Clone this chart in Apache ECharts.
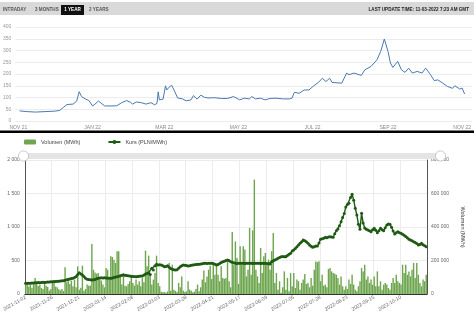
<!DOCTYPE html>
<html><head><meta charset="utf-8">
<script src="https://cdn.jsdelivr.net/npm/echarts@6/dist/echarts.min.js"></script>
<style>html,body{margin:0;padding:0;background:#fff}#c{width:474px;height:316px}</style>
</head><body><div id="c"></div>
<script>
// ---------- header ----------
const tabs = ['INTRADAY', '3 MONTHS', '1 YEAR', '2 YEARS'];
const activeTab = '1 YEAR';
const updateText = 'LAST UPDATE TIME: 11-03-2022 7:23 AM GMT';

// ---------- top chart (1 year line) ----------
const topDates = ['2021-11-02','2021-11-08','2021-11-15','2021-11-23','2021-12-01','2021-12-05','2021-12-08','2021-12-11','2021-12-16','2021-12-19','2021-12-20','2021-12-21','2021-12-22','2021-12-23','2021-12-26','2021-12-29','2022-01-01','2022-01-03','2022-01-06','2022-01-08','2022-01-11','2022-01-17','2022-01-21','2022-01-25','2022-01-29','2022-02-01','2022-02-03','2022-02-06','2022-02-10','2022-02-14','2022-02-18','2022-02-21','2022-02-23','2022-02-24','2022-02-25','2022-02-28','2022-03-02','2022-03-03','2022-03-05','2022-03-07','2022-03-09','2022-03-12','2022-03-16','2022-03-19','2022-03-23','2022-03-25','2022-03-28','2022-03-31','2022-04-03','2022-04-06','2022-04-11','2022-04-17','2022-04-22','2022-04-27','2022-05-02','2022-05-06','2022-05-10','2022-05-12','2022-05-15','2022-05-19','2022-05-23','2022-05-27','2022-06-01','2022-06-07','2022-06-12','2022-06-14','2022-06-16','2022-06-20','2022-06-24','2022-06-28','2022-07-02','2022-07-06','2022-07-09','2022-07-12','2022-07-15','2022-07-17','2022-07-25','2022-07-29','2022-07-31','2022-08-04','2022-08-10','2022-08-13','2022-08-18','2022-08-23','2022-08-26','2022-08-29','2022-09-01','2022-09-03','2022-09-05','2022-09-09','2022-09-12','2022-09-15','2022-09-18','2022-09-21','2022-09-25','2022-09-29','2022-10-02','2022-10-06','2022-10-09','2022-10-12','2022-10-16','2022-10-20','2022-10-24','2022-10-26','2022-10-30','2022-11-01','2022-11-03'];
const topValues = [43,40,38,40,42,45,58,70,72,85,93,125,130,104,94,87,64,72,85,76,64,64,65,78,87,80,72,81,78,72,78,69,75,124,90,93,150,132,144,152,132,98,94,86,90,108,93,110,101,98,99,96,96,104,90,97,94,104,94,97,90,96,97,94,94,97,122,118,132,132,150,165,182,168,182,164,161,204,197,204,194,218,232,261,296,349,296,247,228,254,218,207,225,204,211,204,225,197,172,175,161,147,139,150,136,140,115];
const topTickDates = ['2021-11-01','2022-01-01','2022-03-01','2022-05-01','2022-07-01','2022-09-01','2022-11-01'];
const topTickLabels = ['NOV 21','JAN 22','MAR 22','MAY 22','JUL 22','SEP 22','NOV 22'];

// ---------- bottom chart (trading days) ----------
const tradeStart = '2021-11-02';
const tradeEnd = '2022-11-02';
const holidays = ['2021-11-11','2022-01-06','2022-04-18','2022-05-03','2022-06-16','2022-08-15','2022-11-01'];
const seriesNames = ['Volumen (MWh)', 'Kurs (PLN/MWh)'];
const volume = [
70000,62000,45000,55000,38000,58000,96000,72000,48000,55000,36000,30000,76000,50000,42000,20000,30000,
66000,70000,44000,40000,28000,22000,30000,18000,159000,70000,85000,60000,80000,46000,86000,40000,165000,
26000,38000,169000,20000,30000,56000,50000,50000,299000,145000,129000,121000,125000,86000,80000,56000,40000,
155000,145000,86000,225000,221000,205000,185000,255000,255000,105000,56000,125000,50000,46000,60000,76000,105000,
66000,50000,86000,56000,76000,46000,96000,70000,259000,165000,229000,125000,56000,86000,125000,229000,66000,
46000,14000,10000,12000,8000,15000,185000,20000,175000,26000,18000,12000,66000,40000,105000,20000,12000,
16000,76000,26000,20000,10000,14000,30000,56000,16000,40000,86000,141000,70000,105000,145000,169000,90000,
185000,115000,175000,115000,76000,165000,96000,90000,96000,205000,76000,40000,370000,175000,314000,215000,60000,
285000,175000,285000,265000,105000,145000,394000,115000,380000,683000,145000,105000,66000,275000,125000,225000,245000,
175000,205000,145000,255000,364000,66000,125000,26000,76000,8000,40000,135000,26000,96000,16000,125000,46000,
125000,36000,86000,76000,26000,66000,86000,120000,60000,66000,40000,96000,50000,145000,194000,190000,196000,
76000,115000,50000,56000,40000,149000,155000,135000,125000,121000,115000,96000,56000,105000,46000,26000,46000,
30000,86000,60000,115000,56000,26000,16000,46000,76000,155000,135000,175000,86000,105000,66000,86000,56000,
105000,46000,135000,46000,76000,26000,56000,66000,56000,36000,26000,66000,96000,66000,115000,76000,66000,
56000,175000,125000,175000,115000,135000,105000,145000,185000,96000,185000,115000,66000,46000,86000,76000,115000];
const price = [
159,160,162,161,164,166,168,167,170,169,172,174,173,176,178,180,181,
184,185,187,189,192,195,197,199,205,212,219,225,230,234,245,262,290,
318,300,284,260,234,222,215,211,209,212,218,226,234,238,242,240,244,
240,237,235,234,240,248,255,259,266,272,278,284,280,276,272,269,266,
263,260,259,262,266,270,269,285,299,305,318,290,383,358,420,445,433,
438,433,420,408,412,420,400,380,368,362,358,362,385,408,420,433,430,
425,418,422,428,433,436,440,443,443,448,452,458,458,455,458,460,458,
455,445,433,440,455,470,483,490,500,507,500,483,475,465,458,455,458,
458,460,458,456,458,458,460,458,456,458,460,458,458,456,458,455,458,
455,452,448,483,495,507,520,532,545,557,560,557,557,575,595,607,640,
657,680,706,730,756,781,806,795,781,756,731,712,697,705,716,716,760,
816,825,831,846,840,850,856,850,846,900,945,970,1020,1080,1140,1200,1300,
1335,1353,1440,1488,1400,1280,1180,1040,965,1204,1060,985,965,955,945,930,960,
980,950,915,945,980,960,945,990,1030,1045,1040,995,940,896,915,930,915,
905,890,876,860,840,816,805,795,781,770,755,731,740,756,735,720,706];

// ---------- helpers ----------
function ts(s) { const p = s.split('-').map(Number); return new Date(p[0], p[1] - 1, p[2]).getTime(); }
function pad(n) { return (n < 10 ? '0' : '') + n; }
function tradingDays(a, b, skip) {
  const out = []; const d = new Date(ts(a)); const end = ts(b);
  while (d.getTime() <= end) {
    const s = d.getFullYear() + '-' + pad(d.getMonth() + 1) + '-' + pad(d.getDate());
    const wd = d.getDay();
    if (wd !== 0 && wd !== 6 && skip.indexOf(s) < 0) out.push(s);
    d.setDate(d.getDate() + 1);
  }
  return out;
}
function spaced(v) { return String(v).replace(/\B(?=(\d{3})+(?!\d))/g, ' '); }

const categories = tradingDays(tradeStart, tradeEnd, holidays);
const tickTs = topTickDates.map(ts);
const FONT = '"Liberation Sans", Arial, sans-serif';

const chart = echarts.init(document.getElementById('c'), null, { renderer: 'canvas' });

const tabX = [3, 35, 61, 89];
const graphic = [
  { type: 'rect', shape: { x: 0, y: 2, width: 474, height: 13 }, style: { fill: '#d9d9d9' }, silent: true },
  { type: 'rect', shape: { x: 0, y: 130.5, width: 474, height: 2.6 }, style: { fill: '#000' }, silent: true },
  { type: 'text', style: { text: updateText, x: 469, y: 9.5, fill: '#222', font: 'bold 4.6px ' + FONT, textAlign: 'right', textVerticalAlign: 'middle' } }
];
tabs.forEach(function (t, i) {
  if (t === activeTab) {
    graphic.push({ type: 'rect', shape: { x: tabX[i], y: 5, width: 23, height: 10 }, style: { fill: '#111' } });
    graphic.push({ type: 'text', style: { text: t, x: tabX[i] + 11.5, y: 10, fill: '#fff', font: 'bold 4.6px ' + FONT, textAlign: 'center', textVerticalAlign: 'middle' } });
  } else {
    graphic.push({ type: 'text', style: { text: t, x: tabX[i], y: 10, fill: '#555', font: 'bold 4.6px ' + FONT, textAlign: 'left', textVerticalAlign: 'middle' } });
  }
});

chart.setOption({
  animation: false,
  textStyle: { fontFamily: FONT },
  graphic: graphic,
  legend: {
    data: seriesNames, left: 19, top: 134, itemWidth: 12, itemHeight: 5, itemGap: 27,
    textStyle: { fontSize: 5.5, color: '#444', fontFamily: FONT }
  },
  grid: [
    { left: 13, right: 0, top: 27, bottom: 195, containLabel: false },
    { left: 20, right: 33, top: 160, bottom: 22, containLabel: false }
  ],
  xAxis: [
    {
      type: 'value', gridIndex: 0, min: ts('2021-10-29') + 43200000, max: ts('2022-11-09'),
      axisLine: { show: false }, axisTick: { show: false }, splitLine: { show: false },
      axisLabel: {
        customValues: tickTs, fontSize: 5, color: '#888', margin: 4, hideOverlap: false,
        formatter: function (v) {
          let best = 0, bd = Infinity;
          tickTs.forEach(function (t, i) { const d = Math.abs(t - v); if (d < bd) { bd = d; best = i; } });
          return topTickLabels[best];
        }
      }
    },
    {
      type: 'category', gridIndex: 1, data: categories, boundaryGap: true,
      axisLine: { lineStyle: { color: '#333', width: 1 } },
      axisTick: { interval: 16, alignWithLabel: true, length: 3, lineStyle: { color: '#999' } },
      axisLabel: { interval: 16, rotate: 30, fontSize: 5, color: '#666', margin: 3 },
      splitLine: { show: true, interval: 16, lineStyle: { color: '#ececec' } }
    }
  ],
  yAxis: [
    {
      type: 'value', gridIndex: 0, min: 0, max: 400, interval: 50,
      axisLine: { show: false }, axisTick: { show: false },
      axisLabel: { fontSize: 5, color: '#999', margin: 4 },
      splitLine: { lineStyle: { color: '#ececec' } }
    },
    {
      type: 'value', gridIndex: 1, position: 'left', min: 0, max: 2000, interval: 500,
      axisLine: { show: true, lineStyle: { color: '#555' } }, axisTick: { show: false },
      axisLabel: { fontSize: 5, color: '#666', margin: 5, formatter: spaced },
      splitLine: { lineStyle: { color: '#ececec' } }
    },
    {
      type: 'value', gridIndex: 1, position: 'right', min: 0, max: 800000, interval: 200000,
      axisLine: { show: true, lineStyle: { color: '#555' } }, axisTick: { show: false },
      axisLabel: { fontSize: 5, color: '#666', margin: 4, formatter: spaced },
      splitLine: { show: false },
      name: 'Wolumen (MWh)', nameLocation: 'middle', nameGap: 28, nameRotate: -90,
      nameTextStyle: { fontSize: 5.5, color: '#333' }
    }
  ],
  dataZoom: [{
    type: 'slider', xAxisIndex: 1, start: 0, end: 100, top: 153, height: 6, left: 21, right: 34,
    backgroundColor: '#ececec', fillerColor: '#e4e4e4', borderColor: 'transparent',
    showDataShadow: false, showDetail: false, brushSelect: false, moveHandleSize: 0,
    handleIcon: 'circle', handleSize: '170%',
    handleStyle: { color: '#fff', borderColor: '#c8c8c8', borderWidth: 1 }
  }],
  series: [
    {
      type: 'line', xAxisIndex: 0, yAxisIndex: 0,
      data: topDates.map(function (d, i) { return [ts(d), topValues[i]]; }),
      showSymbol: false, lineStyle: { color: '#4a78b0', width: 1 }, itemStyle: { color: '#4a78b0' }
    },
    {
      name: seriesNames[0], type: 'bar', xAxisIndex: 1, yAxisIndex: 2, data: volume,
      barCategoryGap: '10%', itemStyle: { color: '#6ea64f' }
    },
    {
      name: seriesNames[1], type: 'line', xAxisIndex: 1, yAxisIndex: 1, data: price,
      symbol: 'circle', symbolSize: 3, showAllSymbol: true,
      lineStyle: { color: '#1f5a14', width: 1.4 }, itemStyle: { color: '#1f5a14' }
    }
  ]
});
</script></body></html>
